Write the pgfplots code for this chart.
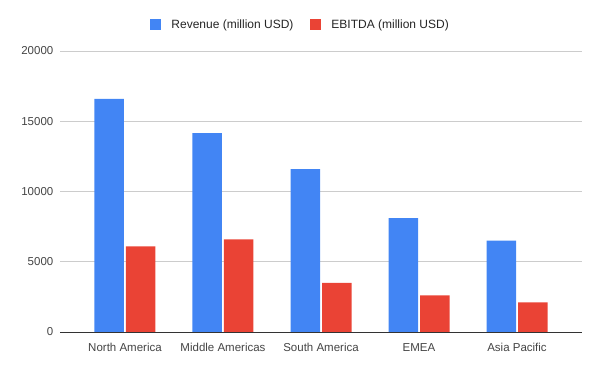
\documentclass[border=0pt]{standalone}
\usepackage{pgfplots}
\pgfplotsset{compat=1.18}
\usepackage{fontspec}
\setmainfont{Liberation Sans}
\definecolor{gblue}{HTML}{4285F4}
\definecolor{gred}{HTML}{EA4335}
\definecolor{ggrid}{HTML}{CCCCCC}
\definecolor{gtext}{HTML}{444444}
\definecolor{gaxis}{HTML}{333333}
\begin{document}
\begin{tikzpicture}
\begin{axis}[
  scale only axis,
  width=522bp, height=281bp,
  xmin=-0.663, xmax=4.663,
  ymin=0, ymax=20000,
  ybar=2bp, bar width=29.5bp,
  axis line style={draw=none},
  tick style={draw=none},
  ymajorgrids, major grid style={ggrid, line width=0.8bp},
  ytick={0,5000,10000,15000,20000},
  scaled y ticks=false,
  yticklabel={\pgfmathprintnumber[fixed,precision=0,set thousands separator={},assume math mode=true]{\tick}},
  extra y ticks={0}, extra y tick labels={},
  extra y tick style={major grid style={gaxis, line width=1bp}},
  xtick={0,1,2,3,4},
  xticklabels={North America,Middle Americas,South America,EMEA,Asia Pacific},
  yticklabel style={font=\fontsize{11.5bp}{13bp}\selectfont, text=gtext, inner sep=0pt, xshift=-6.5bp},
  xticklabel style={font=\fontsize{11.5bp}{13bp}\selectfont, text=gtext, inner sep=0pt, yshift=-7bp},
  legend columns=2,
  legend style={at={(axis description cs:0.461,1)}, anchor=south, yshift=19bp, draw=none, inner sep=0pt,
    font=\fontsize{12bp}{14bp}\selectfont, text=black!85,
    /tikz/every even column/.append style={column sep=15bp}},
  legend image code/.code={\fill[#1] (0bp,-5bp) rectangle (10.5bp,5.5bp); \path (19bp,0bp);},
]
\addplot[fill=gblue, draw=none] coordinates {(0,16600) (1,14150) (2,11600) (3,8100) (4,6500)};
\addplot[fill=gred, draw=none] coordinates {(0,6100) (1,6600) (2,3500) (3,2600) (4,2100)};
\legend{Revenue (million USD), EBITDA (million USD)}
\end{axis}
\pgfresetboundingbox
\useasboundingbox (-60bp,-39bp) rectangle (540bp,332bp);
\end{tikzpicture}
\end{document}
